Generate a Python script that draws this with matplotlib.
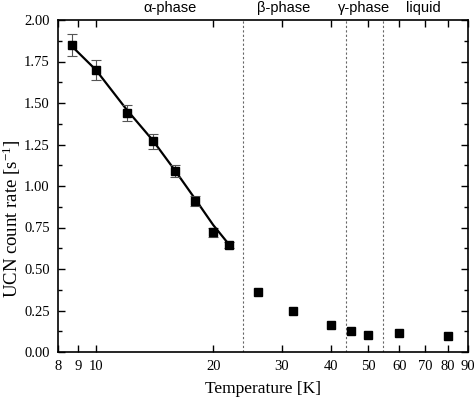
import matplotlib
matplotlib.use("Agg")
import matplotlib.pyplot as plt
from matplotlib.ticker import FixedLocator, FixedFormatter, MultipleLocator, NullLocator, FormatStrFormatter

# ---- data ----
temps_alpha = [8.7, 10, 12, 14, 16, 18, 20, 22]
rate_alpha = [1.85, 1.70, 1.44, 1.27, 1.09, 0.91, 0.72, 0.645]
err_alpha = [0.065, 0.06, 0.05, 0.045, 0.035, 0.03, 0.025, 0.02]

temps_rest = [26, 32, 40, 45, 50, 60, 80]
rate_rest = [0.363, 0.245, 0.161, 0.128, 0.105, 0.114, 0.094]

temps_fit = [8.7, 10, 12, 14, 16, 18, 20, 22]
rate_fit = [1.84, 1.70, 1.46, 1.275, 1.09, 0.92, 0.765, 0.645]

phase_bounds = [23.9, 43.8, 54.6]
phase_names = ["\u03b1-phase", "\u03b2-phase", "\u03b3-phase", "liquid"]
phase_label_x = [15.5, 30.3, 48.6, 69.0]

xticks = [8, 9, 10, 20, 30, 40, 50, 60, 70, 80, 90]
xticklabels = ["8", "9", "10", "20", "30", "40", "50", "60", "70", "80", "90"]

plt.rcParams["mathtext.fontset"] = "custom"
plt.rcParams["mathtext.rm"] = "Liberation Serif"
plt.rcParams["mathtext.it"] = "Liberation Serif:italic"
plt.rcParams["mathtext.default"] = "rm"

W, H = 474, 397
fig = plt.figure(figsize=(W / 100, H / 100), dpi=100)
ax = fig.add_axes([58 / W, 1 - 352 / H, (468 - 58) / W, (352 - 20) / H])

serif = "Liberation Serif"
sans = "Liberation Sans"

ax.set_xscale("log")
ax.set_xlim(8, 90)
ax.set_ylim(0, 2.0)

for xb in phase_bounds:
    ax.axvline(xb, color="#666666", lw=0.8, ls=(0, (2, 2)), zorder=1)

ax.plot(temps_fit, rate_fit, color="black", lw=1.6, zorder=2)
ax.errorbar(temps_alpha, rate_alpha, yerr=err_alpha, fmt="none", ecolor="#555555",
            elinewidth=0.8, capsize=3.5, capthick=0.8, zorder=3)
ax.plot(temps_alpha, rate_alpha, ls="none", marker="s", ms=5.5, color="black", zorder=4)
ax.plot(temps_rest, rate_rest, ls="none", marker="s", ms=5.5, color="black", zorder=4)

ax.xaxis.set_major_locator(FixedLocator(xticks))
ax.xaxis.set_major_formatter(FixedFormatter(xticklabels))
ax.xaxis.set_minor_locator(NullLocator())
ax.yaxis.set_major_locator(MultipleLocator(0.25))
ax.yaxis.set_minor_locator(MultipleLocator(0.125))
ax.yaxis.set_major_formatter(FormatStrFormatter("%.2f"))

ax.tick_params(which="both", direction="in", top=True, right=True, width=1.0)
ax.tick_params(which="major", length=5, labelsize=10.5, pad=6)
ax.tick_params(which="minor", length=3)
for lab in ax.get_xticklabels() + ax.get_yticklabels():
    lab.set_fontfamily(serif)
for s in ax.spines.values():
    s.set_linewidth(1.2)

ax.set_xlabel("Temperature [K]", fontfamily=serif, fontsize=12.5)
ax.set_ylabel("UCN count rate [s$^{-1}$]", fontfamily=serif, fontsize=13.5)
ax.yaxis.set_label_coords(-0.085, 0.40)
ax.xaxis.set_label_coords(0.5, -0.088)
ax.xaxis.label.set_verticalalignment("top")

for name, xl in zip(phase_names, phase_label_x):
    ax.text(xl, 1.015, name, transform=ax.get_xaxis_transform(), ha="center",
            va="bottom", fontfamily=sans, fontsize=10.5)

fig.savefig("out.png", dpi=100)
